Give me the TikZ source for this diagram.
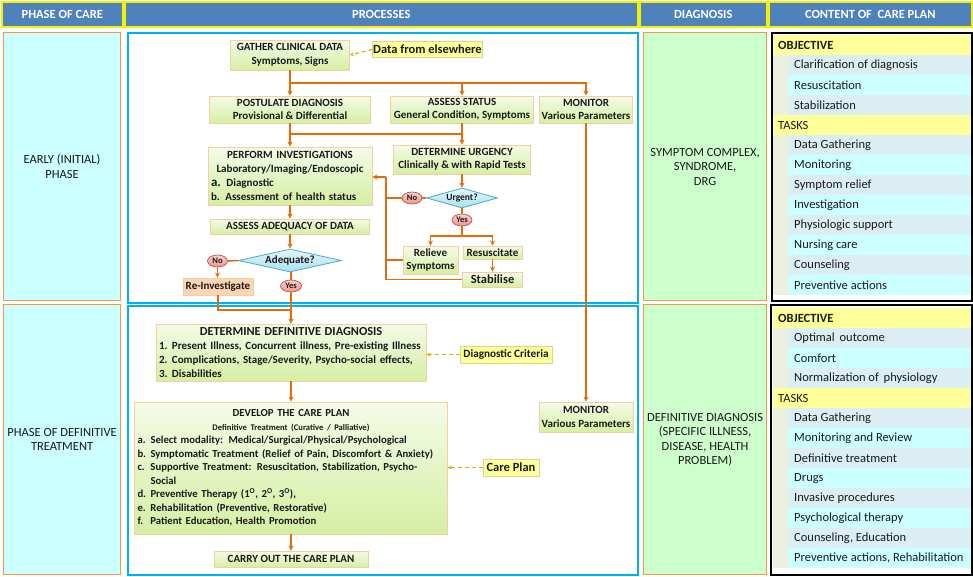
\documentclass[tikz,border=0pt]{standalone}
\usepackage{fontspec}
\setmainfont{Carlito}
\usetikzlibrary{shapes.geometric,arrows.meta}
\definecolor{hdr}{HTML}{4F81BD}
\definecolor{hdrbd}{HTML}{F2F200}
\definecolor{phasefill}{HTML}{CCFFFF}
\definecolor{cellbd}{HTML}{F79646}
\definecolor{panelbd}{HTML}{00B0F0}
\definecolor{diagfill}{HTML}{CCFFCC}
\definecolor{conn}{HTML}{E46C0A}
\definecolor{boxbd}{HTML}{F6CFA0}
\definecolor{gtop}{HTML}{F4FBE8}
\definecolor{gbot}{HTML}{D5EFA3}
\definecolor{callfill}{HTML}{FFFF99}
\definecolor{callbd}{HTML}{D6D69A}
\definecolor{dashc}{HTML}{CDBA00}
\definecolor{dtop}{HTML}{E3F6FC}
\definecolor{dbot}{HTML}{ABDFF0}
\definecolor{dbd}{HTML}{4BACC6}
\definecolor{yntop}{HTML}{F9D3CE}
\definecolor{ynbot}{HTML}{E8948A}
\definecolor{ynbd}{HTML}{C0504D}
\definecolor{reinvfill}{HTML}{FCD5B4}
\definecolor{objfill}{HTML}{FFFF99}
\definecolor{rowa}{HTML}{DAEEF3}
\definecolor{rowb}{HTML}{CCFFFF}
\definecolor{stripc}{HTML}{EBF1DE}
\definecolor{txt}{HTML}{1A1A1A}
\newcommand{\citem}[4]{%
  \fill[stripc] (773,#2) rectangle (788,#2+20);
  \node[citemstyle, fill=#3] (#1) at (788,#2) {\makebox[171pt][l]{#4}};}
\begin{document}
\begin{tikzpicture}[x=1pt,y=-1pt,
  hdrcell/.style={anchor=north west, draw=hdrbd, line width=1.5pt, fill=hdr, text=white,
    inner sep=0pt, font=\bfseries\fontsize{12.5}{14}\selectfont},
  phasecell/.style={anchor=north west, draw=cellbd, line width=1.2pt, fill=phasefill,
    inner sep=0pt, align=center, text=txt, font=\fontsize{12.5}{14.5}\selectfont},
  diagcell/.style={phasecell, fill=diagfill},
  panel/.style={anchor=north west, draw=panelbd, line width=1.5pt, fill=white, inner sep=0pt},
  cbox/.style={anchor=north west, draw=black, line width=1.5pt, inner sep=0pt},
  citemstyle/.style={anchor=north west, minimum width=183pt, minimum height=20pt, inner ysep=0pt,
    inner xsep=6pt, text=txt, font=\fontsize{12.5}{14}\selectfont},
  chead/.style={anchor=north west, fill=objfill, minimum width=198pt, minimum height=20pt, inner ysep=0pt,
    inner xsep=5pt, text width=188pt, align=left, text=txt, font=\fontsize{12.5}{14}\selectfont},
  pbox/.style={draw=boxbd, line width=0.8pt, top color=gtop, bottom color=gbot, inner sep=1pt,
    align=center, text=txt, font=\bfseries\fontsize{11}{13.5}\selectfont},
  callout/.style={draw=callbd, line width=0.6pt, fill=callfill, inner sep=0.5pt, text=txt,
    font=\bfseries\fontsize{12.5}{14}\selectfont},
  decision/.style={diamond, draw=dbd, line width=0.8pt, top color=dtop, bottom color=dbot,
    inner sep=0pt, text=txt, font=\bfseries\fontsize{9.5}{11}\selectfont},
  yn/.style={ellipse, draw=ynbd, line width=0.7pt, top color=yntop, bottom color=ynbot,
    inner sep=0pt, minimum width=20pt, minimum height=12pt, text=txt, font=\bfseries\fontsize{8.5}{10}\selectfont},
  ln/.style={draw=conn, line width=1.5pt},
  arr/.style={draw=conn, line width=1.5pt, -{Stealth[length=5pt,width=5pt]}},
  dasharr/.style={draw=dashc, line width=1.2pt, dash pattern=on 4pt off 3pt, -{Stealth[length=4pt,width=4pt]}}
]
\useasboundingbox (0,0) rectangle (973,576);

% header
\node[hdrcell, minimum width=121pt, minimum height=25pt] (h1) at (1,1) {PHASE OF CARE};
\node[hdrcell, minimum width=513pt, minimum height=25pt] (h2) at (124,1) {PROCESSES};
\node[hdrcell, minimum width=127pt, minimum height=25pt] (h3) at (639,1) {DIAGNOSIS};
\node[hdrcell, minimum width=203pt, minimum height=25pt] (h4) at (768,1) {CONTENT OF\ \ CARE PLAN};

% phase cells
\node[phasecell, minimum width=117pt, minimum height=268pt] (p1) at (3,32) {EARLY (INITIAL)\\PHASE};
\node[phasecell, minimum width=117pt, minimum height=270pt] (p2) at (3,304) {PHASE OF DEFINITIVE\\TREATMENT};

% process panels
\node[panel, minimum width=510pt, minimum height=270pt] (pa) at (127,32) {};
\node[panel, minimum width=510pt, minimum height=269pt] (pb) at (127,305) {};

% diagnosis cells
\node[diagcell, minimum width=123pt, minimum height=268pt] (d1) at (643,32) {SYMPTOM COMPLEX,\\SYNDROME,\\DRG};
\node[diagcell, minimum width=123pt, minimum height=270pt] (d2) at (643,304) {DEFINITIVE DIAGNOSIS\\(SPECIFIC ILLNESS,\\DISEASE, HEALTH\\PROBLEM)};

% content of care plan, early phase
\node[chead] (obj1) at (773,35) {\bfseries OBJECTIVE};
\citem{a1}{55}{rowa}{Clarification of diagnosis}
\citem{a2}{75}{rowb}{Resuscitation}
\citem{a3}{95}{rowa}{Stabilization}
\node[chead] (task1) at (773,115) {TASKS};
\citem{a4}{135}{rowa}{Data Gathering}
\citem{a5}{155}{rowb}{Monitoring}
\citem{a6}{175}{rowa}{Symptom relief}
\citem{a7}{195}{rowb}{Investigation}
\citem{a8}{215}{rowa}{Physiologic support}
\citem{a9}{235}{rowb}{Nursing care}
\citem{a10}{255}{rowa}{Counseling}
\citem{a11}{275}{rowb}{Preventive actions}
\node[cbox, minimum width=200pt, minimum height=268pt] (cb1) at (771,32) {};

% content of care plan, definitive phase
\node[chead] (obj2) at (773,308) {\bfseries OBJECTIVE};
\citem{b1}{328}{rowa}{Optimal\hspace{2pt} outcome}
\citem{b2}{348}{rowb}{Comfort}
\citem{b3}{368}{rowa}{Normalization of\hspace{2pt} physiology}
\node[chead] (task2) at (773,388) {TASKS};
\citem{b4}{408}{rowa}{Data Gathering}
\citem{b5}{428}{rowb}{Monitoring and Review}
\citem{b6}{448}{rowa}{Definitive treatment}
\citem{b7}{468}{rowb}{Drugs}
\citem{b8}{488}{rowa}{Invasive procedures}
\citem{b9}{508}{rowb}{Psychological therapy}
\citem{b10}{528}{rowa}{Counseling, Education}
\citem{b11}{548}{rowb}{Preventive actions, Rehabilitation}
\node[cbox, minimum width=201pt, minimum height=270pt] (cb2) at (770,304) {};

% ---- process flow, early phase
\node[pbox, minimum width=119pt, minimum height=30pt] (gather) at (290,55) {GATHER CLINICAL DATA\\Symptoms, Signs};
\node[callout, minimum width=109pt, minimum height=16pt] (datafrom) at (427.5,49.5) {Data from elsewhere};
\node[pbox, minimum width=161pt, minimum height=27pt] (postulate) at (290,109.5) {POSTULATE DIAGNOSIS\\Provisional \& Differential};
\node[pbox, minimum width=143pt, minimum height=27pt] (assess) at (462,109.5) {ASSESS STATUS\\General Condition, Symptoms};
\node[pbox, minimum width=93pt, minimum height=27pt] (mon1) at (586,109.5) {MONITOR\\Various Parameters};
\node[pbox, minimum width=164pt, minimum height=58pt, text width=158pt, align=left, font=\bfseries\fontsize{11}{14}\selectfont] (perform) at (290,176)
  {\makebox[158pt]{PERFORM INVESTIGATIONS}\\
   \makebox[158pt]{Laboratory/Imaging/Endoscopic}\\
   {\fontsize{13}{14}\selectfont a.} Diagnostic\\
   b. Assessment of health status};
\node[pbox, minimum width=137pt, minimum height=29pt] (urgency) at (462,159.5) {DETERMINE URGENCY\\Clinically \& with Rapid Tests};
\node[decision, minimum width=71pt, minimum height=20pt, shape aspect=3.5] (urgent) at (462,198) {Urgent?};
\node[yn] (no1) at (412,198) {No};
\node[yn] (yes1) at (462,220) {Yes};
\node[pbox, minimum width=55pt, minimum height=28pt] (relieve) at (430.5,260) {Relieve\\Symptoms};
\node[pbox, minimum width=59pt, minimum height=13pt] (resus) at (492.5,252.5) {Resuscitate};
\node[pbox, minimum width=60pt, minimum height=15pt, font=\bfseries\fontsize{12.5}{14}\selectfont] (stab) at (492.5,279.5) {Stabilise};
\node[pbox, minimum width=159pt, minimum height=15pt] (adequacy) at (290,226.5) {ASSESS ADEQUACY OF DATA};
\node[decision, minimum width=103pt, minimum height=23pt, shape aspect=4, font=\bfseries\fontsize{11}{12}\selectfont] (adequate) at (290,260.5) {Adequate?};
\node[yn] (no2) at (217.5,261) {No};
\node[pbox, minimum width=70pt, minimum height=17pt, top color=reinvfill, bottom color=reinvfill] (reinv) at (218,286.5) {Re-Investigate};
\node[yn, minimum width=21pt] (yes2) at (291,286) {Yes};

% ---- process flow, definitive phase
\node[pbox, minimum width=270pt, minimum height=57pt, text width=264pt, align=left, font=\bfseries\fontsize{11}{13.7}\selectfont] (defdiag) at (291,352.5)
  {\makebox[264pt]{\fontsize{12.3}{13}\selectfont DETERMINE DEFINITIVE DIAGNOSIS}\\
   \makebox[13pt][l]{1.}Present Illness, Concurrent illness, Pre-existing Illness\\
   \makebox[13pt][l]{2.}Complications, Stage/Severity, Psycho-social effects,\\
   \makebox[13pt][l]{3.}Disabilities};
\node[callout, minimum width=92pt, minimum height=17pt, font=\bfseries\fontsize{11.2}{13}\selectfont] (criteria) at (506,354.5) {Diagnostic Criteria};
\node[pbox, minimum width=313pt, minimum height=132pt, text width=307pt, align=left, font=\bfseries\fontsize{10.7}{13.5}\selectfont] (develop) at (291,468)
  {\makebox[307pt]{\fontsize{10.8}{12}\selectfont DEVELOP THE CARE PLAN}\\
   \makebox[307pt]{\fontsize{8.6}{9}\selectfont Definitive Treatment (Curative / Palliative)}\\
   \makebox[13pt][l]{a.}Select modality: Medical/Surgical/Physical/Psychological\\
   \makebox[13pt][l]{b.}Symptomatic Treatment (Relief of Pain, Discomfort \& Anxiety)\\
   \makebox[13pt][l]{c.}Supportive Treatment: Resuscitation, Stabilization, Psycho-\\
   \hspace*{13pt}Social\\
   \makebox[13pt][l]{d.}Preventive Therapy (1\textsuperscript{O}, 2\textsuperscript{O}, 3\textsuperscript{O}),\\
   \makebox[13pt][l]{e.}Rehabilitation (Preventive, Restorative)\\
   \makebox[13pt][l]{f.}Patient Education, Health Promotion};
\node[callout, minimum width=56pt, minimum height=17pt] (careplan) at (511,467.5) {Care Plan};
\node[pbox, minimum width=94pt, minimum height=30pt] (mon2) at (586,417) {MONITOR\\Various Parameters};
\node[pbox, minimum width=154pt, minimum height=16pt] (carry) at (291,559) {CARRY OUT THE CARE PLAN};

% ---- connectors
\coordinate (j1) at (290,83);
\coordinate (j2) at (290,134);
\coordinate (j4) at (462,236);
\coordinate (jt) at (386,177);
\coordinate (j5) at (291,310);

\draw[dasharr] (datafrom.west) -- (gather.east);
\draw[ln] (gather.south) -- (j1);
\draw[arr] (j1) -- (postulate.north);
\draw[arr] (j1) -| (assess.north);
\draw[arr] (j1) -| (mon1.north);
\draw[arr] (postulate.south) -- (perform.north);
\draw[ln] (j2) -- (j2 -| urgency.north);
\draw[arr] (assess.south) -- (urgency.north);
\draw[arr] (urgency.south) -- (urgent.north);
\draw[ln] (urgent.west) -- (no1.east);
\draw[ln] (no1.west) -- (no1.west -| jt);
\draw[ln] (jt) -- (jt |- stab.west);
\draw[arr] (jt) -- (jt -| perform.east);
\draw[ln] (relieve.west) -- (relieve.west -| jt);
\draw[ln] (stab.west) -- (stab.west -| jt);
\draw[ln] (urgent.south) -- (yes1.north);
\draw[ln] (yes1.south) -- (j4);
\draw[arr] (j4) -| (relieve.north);
\draw[arr] (j4) -| (resus.north);
\draw[arr] (resus.south) -- (stab.north);
\draw[arr] (perform.south) -- (adequacy.north);
\draw[arr] (adequacy.south) -- (adequate.north);
\draw[ln] (adequate.west) -- (no2.east);
\draw[arr] (no2.south) -- (no2.south |- reinv.north);
\draw[ln] (yes2.north |- adequate.south) -- (yes2.north);
\draw[ln] (reinv.south) |- (j5);
\draw[arr] (yes2.south) -- (defdiag.north);
\draw[arr] (mon1.south) -- (mon2.north);
\draw[dasharr] (criteria.west) -- (criteria.west -| defdiag.east);
\draw[arr] (defdiag.south) -- (develop.north);
\draw[dasharr] (careplan.west) -- (careplan.west -| develop.east);
\draw[arr] (develop.south) -- (carry.north);
\end{tikzpicture}
\end{document}
